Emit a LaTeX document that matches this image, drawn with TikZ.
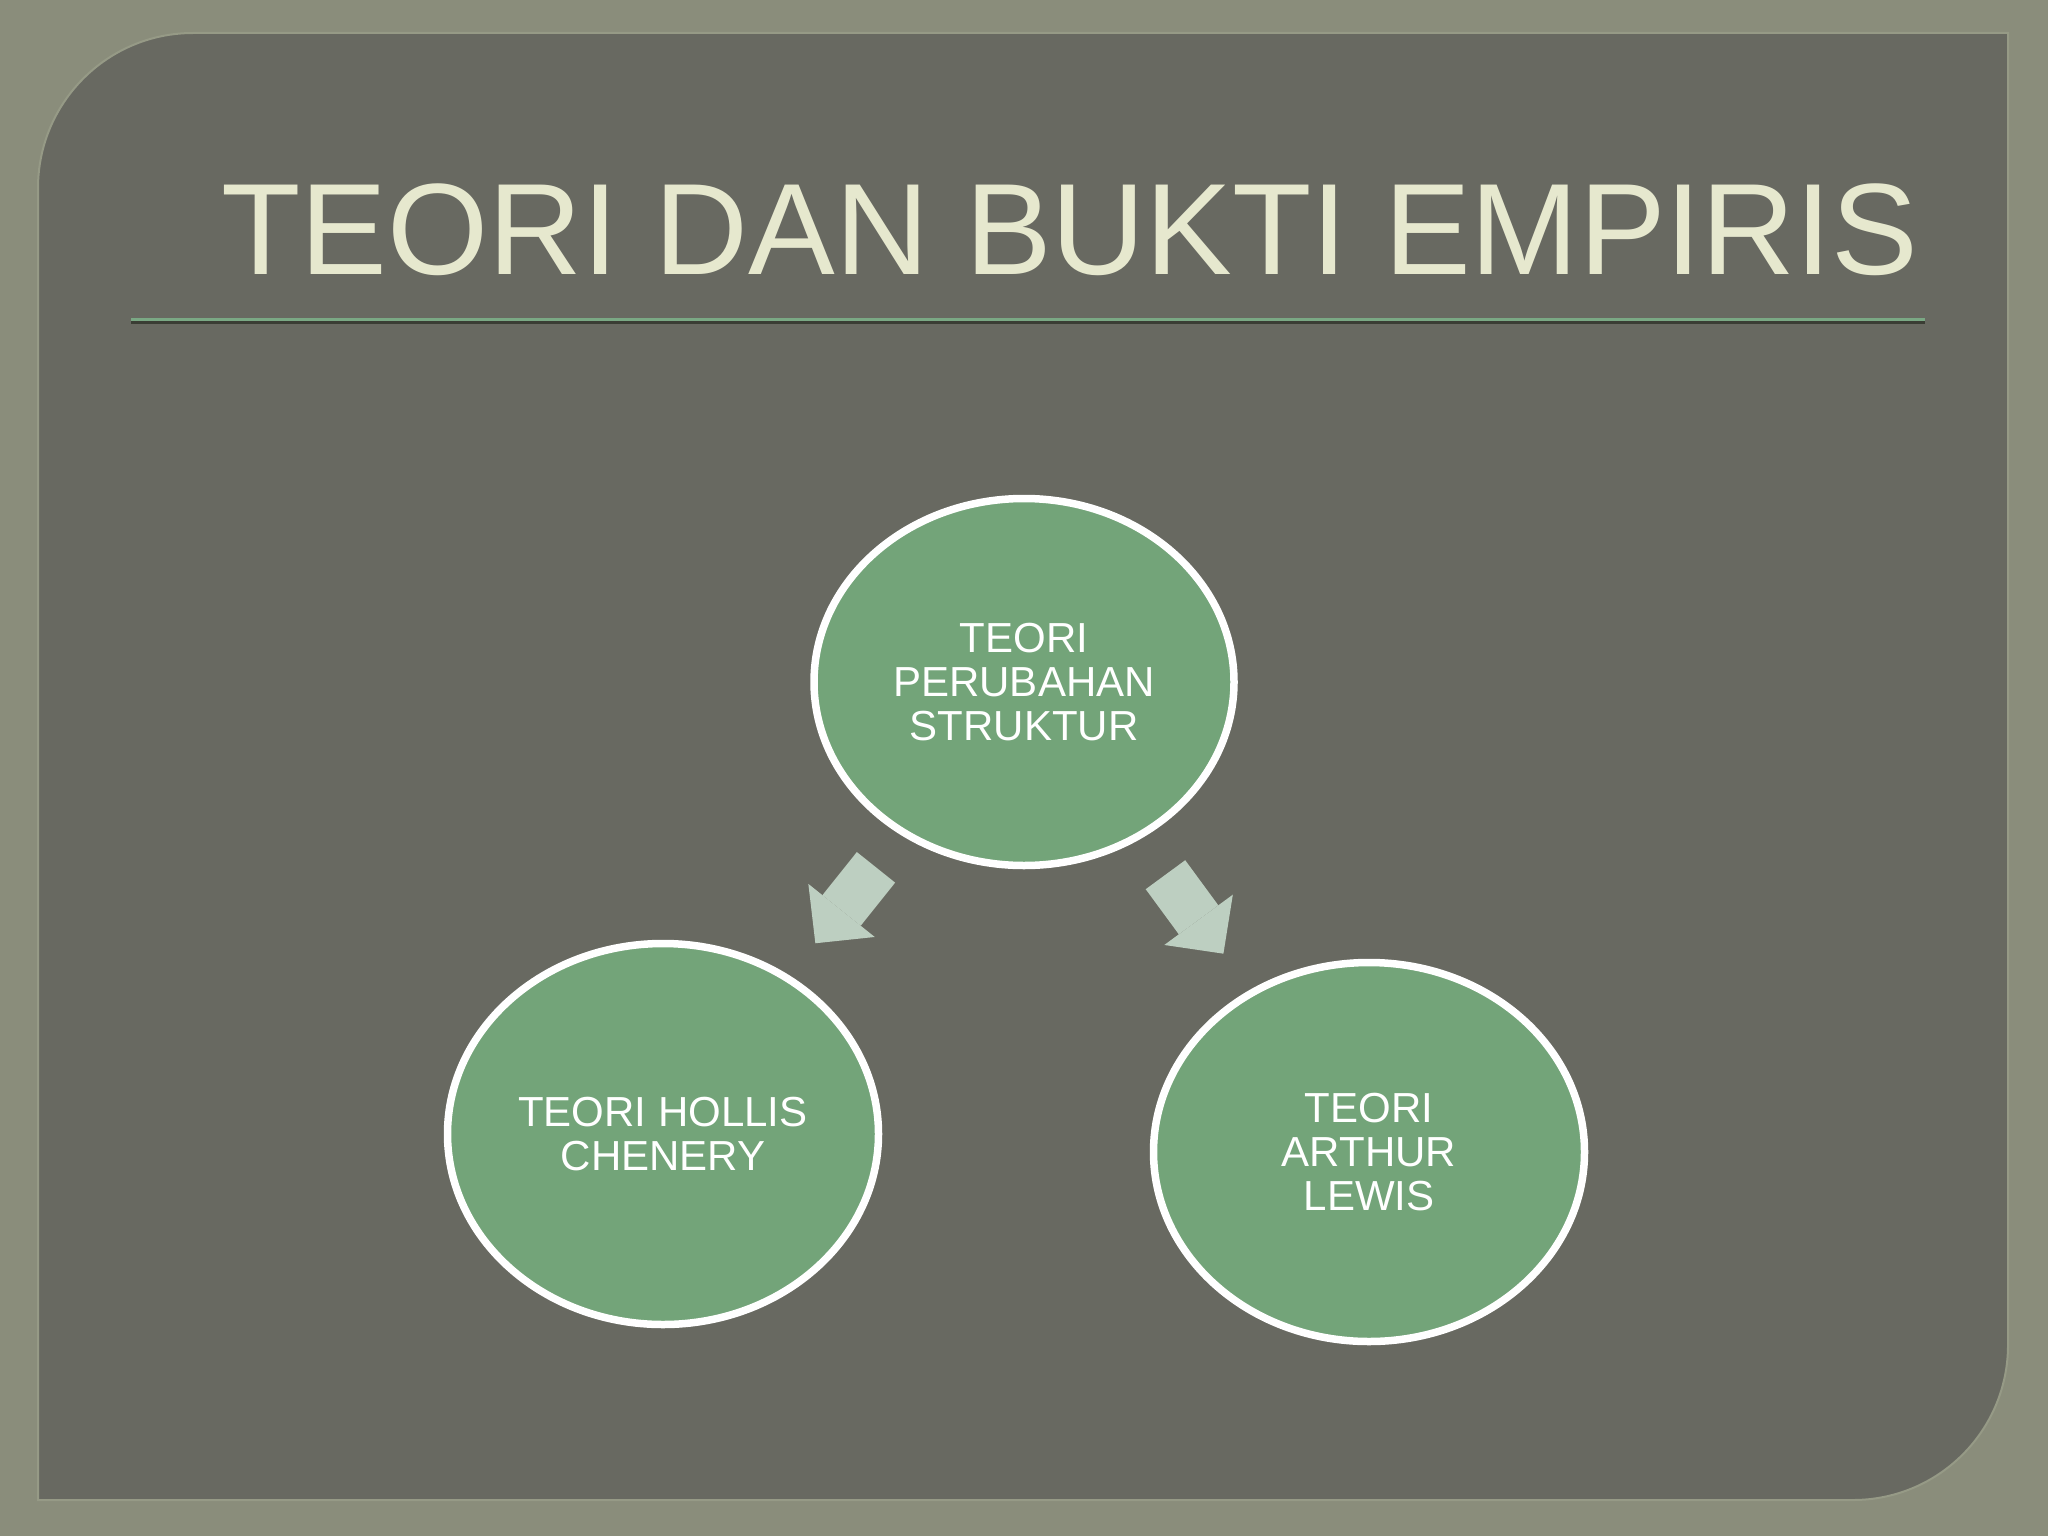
\documentclass[tikz,border=0pt]{standalone}
\usepackage{fontspec}
\setmainfont{Liberation Sans}
\usetikzlibrary{arrows.meta,calc,shapes.geometric}

\definecolor{outerbg}{RGB}{138,141,123}
\definecolor{panelgrey}{RGB}{104,105,97}
\definecolor{paneledge}{RGB}{150,154,134}
\definecolor{titlecream}{RGB}{230,232,206}
\definecolor{bubblegreen}{RGB}{115,164,121}
\definecolor{arrowpale}{RGB}{189,207,193}
\definecolor{rulegreen}{RGB}{122,168,132}
\definecolor{ruledark}{RGB}{58,61,52}

\begin{document}
\begin{tikzpicture}[x=0.5pt, y=-0.5pt,
    bubble/.style={ellipse, draw=white, line width=3.75pt, fill=bubblegreen,
      text=white, align=center, inner sep=0pt, font=\fontsize{21}{22}\selectfont},
    blockarrow/.style={draw=arrowpale, line width=24.5pt, line cap=butt,
      -{Triangle[length=21pt, width=42.5pt, line width=0pt, fill=arrowpale, color=arrowpale]}}]
  \useasboundingbox (0,0) rectangle (2048,1536);
  \fill[outerbg] (0,0) rectangle (2048,1536);
  % slide panel
  \filldraw[fill=panelgrey, draw=paneledge, line width=1pt]
    (38,1500) -- (38,188) .. controls (38,102.4) and (107.4,33) .. (193,33)
    -- (2008,33) -- (2008,1345) .. controls (2008,1430.6) and (1938.6,1500) .. (1853,1500)
    -- cycle;
  \node[text=titlecream, font=\fontsize{65}{70}\selectfont, anchor=base] (title) at (1070,274) {TEORI DAN BUKTI EMPIRIS};
  \draw[rulegreen, line width=1.5pt] (131,319) -- (1925,319);
  \draw[ruledark, line width=1.5pt] (131,322.5) -- (1925,322.5);

  \node[bubble, minimum width=210pt, minimum height=183.5pt] (top) at (1024,682) {TEORI\\PERUBAHAN\\STRUKTUR};
  \node[bubble, minimum width=215.5pt, minimum height=190.5pt] (hollis) at (663,1134) {TEORI HOLLIS\\CHENERY};
  \node[bubble, minimum width=215.5pt, minimum height=189.5pt] (lewis) at (1369,1152) {TEORI\\ARTHUR\\LEWIS};

  \draw[blockarrow] ($(top)!0.41!(hollis)$) -- ($(top)!0.578!(hollis)$);
  \draw[blockarrow] ($(top)!0.41!(lewis)$) -- ($(top)!0.578!(lewis)$);
\end{tikzpicture}
\end{document}
